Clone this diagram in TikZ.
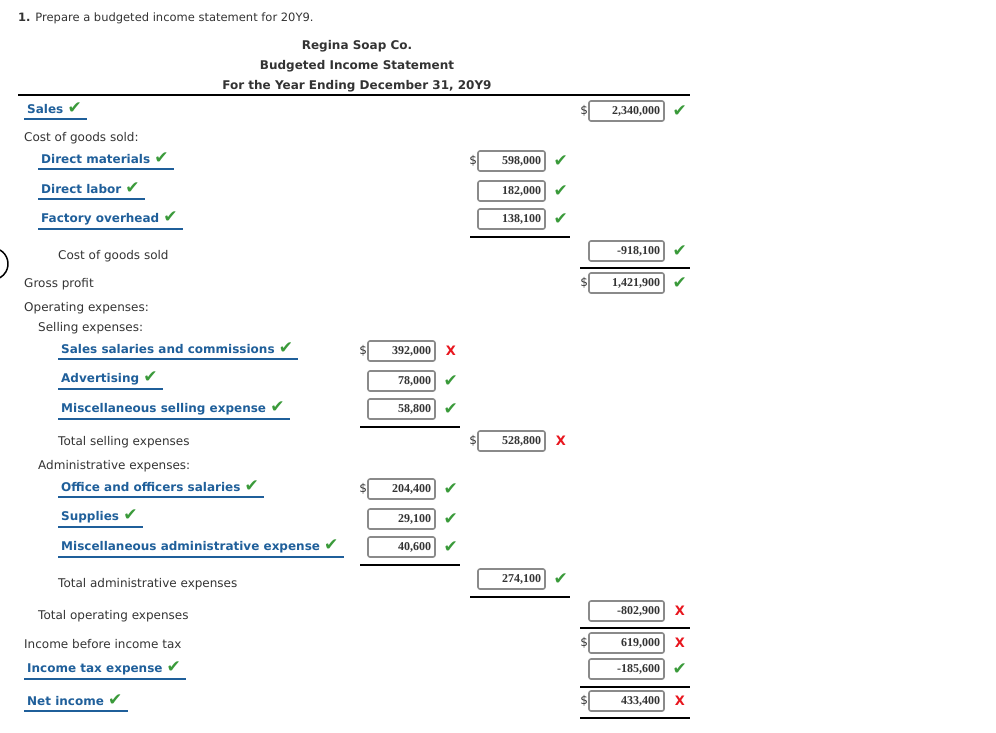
\documentclass[tikz,border=0pt]{standalone}
\usepackage{fontspec}
\setmainfont{DejaVu Sans}
\newfontfamily\numfont{Liberation Serif}
\usetikzlibrary{calc}
\definecolor{lblue}{HTML}{1F5F9A}
\definecolor{okgreen}{HTML}{3A9A3A}
\definecolor{badred}{HTML}{E8161E}
\definecolor{txt}{HTML}{333333}
\definecolor{boxgray}{HTML}{8A8A8A}
\newcommand\okmark{\textcolor{okgreen}{\fontsize{17}{17}\selectfont ✔}}
\newcommand\badmark{\textcolor{badred}{\fontsize{13}{13}\selectfont\bfseries X}}
\tikzset{
  plain/.style={anchor=west,inner sep=0pt,text=txt,font=\fontsize{12}{14}\selectfont},
  head/.style={inner sep=0pt,text=txt,font=\fontsize{12}{14}\selectfont\bfseries},
  lbl/.style={anchor=west,inner sep=0pt,text=lblue,font=\fontsize{12}{14}\selectfont\bfseries},
  ul/.style={draw=lblue,line width=2pt},
  rulel/.style={draw=black,line width=2pt},
  valbox/.style={draw=boxgray,line width=1.6pt,rounded corners=2pt,fill=white,
     minimum height=20pt,inner sep=0pt,anchor=center,text=txt,
     font=\numfont\fontsize{12}{12}\selectfont\bfseries,align=right,text width=#1},
  dol/.style={anchor=east,inner sep=0pt,text=txt,font=\fontsize{12}{12}\selectfont},
  mk/.style={anchor=center,inner sep=0pt}
}
% #1 name, #2 x center, #3 width, #4 y, #5 dollar, #6 value, #7 mark
\newcommand\valrow[7]{%
  \node[valbox=#3-8pt,minimum width=#3] (#1) at (#2,#4) {#6};
  \node[dol] (#1d) at ($(#1.west)+(0,0)$) {#5};
  \node[mk] (#1m) at ($(#1.east)+(15,0)$) {#7};
}
\newcommand\lblrow[4]{%
  \node[lbl] (#1) at (#2,#3) {#4\ \okmark};
  \draw[ul] ($(#1.west)+(-3,11)$) -- ($(#1.east)+(5,11)$);
}
\begin{document}
\begin{tikzpicture}[x=1pt,y=-1pt]
\useasboundingbox (0,0) rectangle (996,732);
\node[plain,font=\fontsize{11.5}{14}\selectfont] (q) at (18,18) {\textbf{1.} Prepare a budgeted income statement for 20Y9.};
\node[head] (t1) at (357,46) {Regina Soap Co.};
\node[head] (t2) at (357,66) {Budgeted Income Statement};
\node[head] (t3) at (357,86) {For the Year Ending December 31, 20Y9};
\draw[rulel] (18,95) -- (690,95);
\draw[line width=1.5pt] (0,250) arc[start angle=-60,end angle=60,radius=16];

\lblrow{sales}{27}{108}{Sales}
\node[plain] (cgs) at (24,138) {Cost of goods sold:};
\lblrow{dm}{41}{158}{Direct materials}
\lblrow{dl}{41}{188}{Direct labor}
\lblrow{fo}{41}{218}{Factory overhead}
\node[plain] (cgst) at (58,256) {Cost of goods sold};
\node[plain] (gp) at (24,284) {Gross profit};
\node[plain] (opx) at (24,308) {Operating expenses:};
\node[plain] (selx) at (38,328) {Selling expenses:};
\lblrow{ssc}{61}{348}{Sales salaries and commissions}
\lblrow{adv}{61}{378}{Advertising}
\lblrow{msx}{61}{408}{Miscellaneous selling expense}
\node[plain] (tse) at (58,442) {Total selling expenses};
\node[plain] (admx) at (38,466) {Administrative expenses:};
\lblrow{oos}{61}{486}{Office and officers salaries}
\lblrow{sup}{61}{516}{Supplies}
\lblrow{mae}{61}{546}{Miscellaneous administrative expense}
\node[plain] (tae) at (58,584) {Total administrative expenses};
\node[plain] (toe) at (38,616) {Total operating expenses};
\node[plain] (ibit) at (24,644) {Income before income tax};
\lblrow{ite}{27}{668}{Income tax expense}
\lblrow{ni}{27}{700}{Net income}

\valrow{v1}{626.5}{75pt}{111}{\$}{2,340,000}{\okmark}
\valrow{v2}{511.5}{67pt}{161}{\$}{598,000}{\okmark}
\valrow{v3}{511.5}{67pt}{191}{}{182,000}{\okmark}
\valrow{v4}{511.5}{67pt}{219}{}{138,100}{\okmark}
\draw[rulel] (470,237) -- (570,237);
\valrow{v5}{626.5}{75pt}{251}{}{-918,100}{\okmark}
\draw[rulel] (580,268) -- (690,268);
\valrow{v6}{626.5}{75pt}{283}{\$}{1,421,900}{\okmark}
\valrow{v7}{401.5}{67pt}{351}{\$}{392,000}{\badmark}
\valrow{v8}{401.5}{67pt}{381}{}{78,000}{\okmark}
\valrow{v9}{401.5}{67pt}{409}{}{58,800}{\okmark}
\draw[rulel] (360,427) -- (460,427);
\valrow{v10}{511.5}{67pt}{441}{\$}{528,800}{\badmark}
\valrow{v11}{401.5}{67pt}{489}{\$}{204,400}{\okmark}
\valrow{v12}{401.5}{67pt}{519}{}{29,100}{\okmark}
\valrow{v13}{401.5}{67pt}{547}{}{40,600}{\okmark}
\draw[rulel] (360,565) -- (460,565);
\valrow{v14}{511.5}{67pt}{579}{}{274,100}{\okmark}
\draw[rulel] (470,597) -- (570,597);
\valrow{v15}{626.5}{75pt}{611}{}{-802,900}{\badmark}
\draw[rulel] (580,628) -- (690,628);
\valrow{v16}{626.5}{75pt}{643}{\$}{619,000}{\badmark}
\valrow{v17}{626.5}{75pt}{669}{}{-185,600}{\okmark}
\draw[rulel] (580,687) -- (690,687);
\valrow{v18}{626.5}{75pt}{701}{\$}{433,400}{\badmark}
\draw[rulel] (580,718) -- (690,718);
\end{tikzpicture}
\end{document}
